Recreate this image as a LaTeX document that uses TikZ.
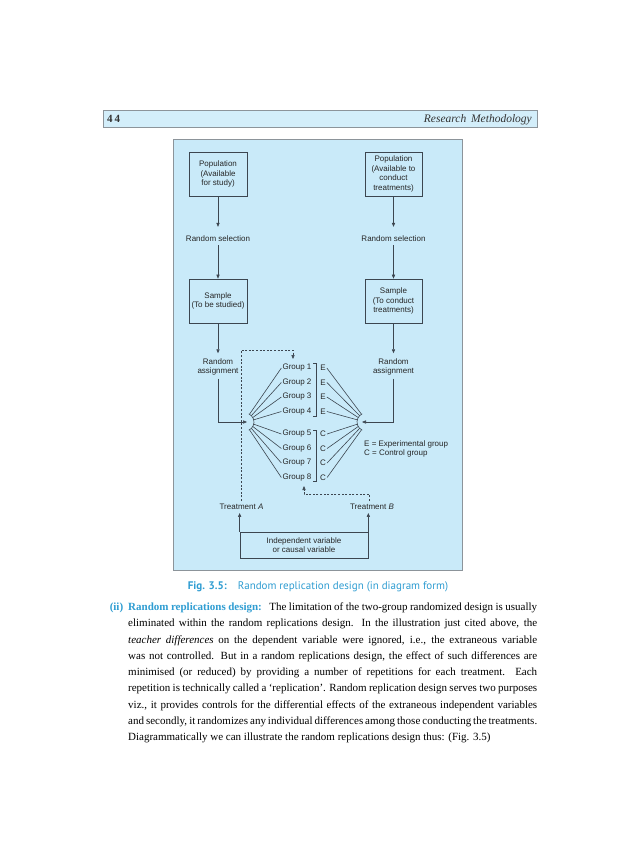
\documentclass[tikz,border=0pt]{standalone}
\usepackage{fontspec}
\setmainfont{Liberation Serif}
\newfontfamily\diagfont{Liberation Sans}
\newfontfamily\capfont{PT Sans}
\usetikzlibrary{arrows.meta,graphs,positioning}
\definecolor{panelblue}{HTML}{C9EAF9}
\definecolor{barblue}{HTML}{D3EEFA}
\definecolor{edgegray}{HTML}{8C949A}
\definecolor{inkgray}{HTML}{3C4650}
\definecolor{capblue}{HTML}{2F9DD2}
\tikzset{
    >={Triangle[length=4pt,width=3.2pt]},
    boxnode/.style ={
        draw=inkgray,
        line width=0.7pt,
        align=center,
        minimum width=58pt,
        minimum height=44pt,
        inner sep=1pt,
        text=black!85,
        font=\diagfont\fontsize{8}{9.6}\selectfont
    },
    word/.style ={
        align=center,
        inner sep=3pt,
        text=black!85,
        font=\diagfont\fontsize{8}{9.6}\selectfont
    },
    grp/.style ={
        word,
        inner sep=1pt
    },
    link/.style ={
        draw=inkgray,
        line width=0.6pt
    },
    dashlink/.style ={
        link,
        dash pattern=on 2pt off 1.6pt
    },
    panel/.style ={
        draw=edgegray,
        line width=0.8pt,
        fill=panelblue
    },
    headbar/.style ={
        draw=edgegray,
        line width=0.8pt,
        fill=barblue
    }
}

\begin{document}
\begin{tikzpicture}[x=1pt,y=-1pt]
    \useasboundingbox (0,0) rectangle (638,847);
    \fill[white] (0,0) rectangle (638,847);
    % running head
    \draw[headbar] (103,110) rectangle (537,127);
    \node[anchor=base west, inner sep=0pt, text=black!80, font=\bfseries\fontsize{11}{13}\selectfont] (pageno) at (107,122.5) {4\,4};
    \node[anchor=base east, inner sep=0pt, text=black!80, font=\itshape\fontsize{11.5}{13}\selectfont] (runhead) at (532,122.5) {Research\, Methodology};
    % the figure
    \draw[panel] (173,139) rectangle (462,570);
    \node[boxnode] (pop1) at (218,174) {Population\\(Available\\for study)};
    \node[boxnode, minimum width=57pt] (pop2) at (393.5,174) {Population\\(Available to\\conduct\\treatments)};
    \node[word] (sel1) at (218,239) {Random selection};
    \node[word] (sel2) at (393.5,239) {Random selection};
    \node[boxnode] (samp1) at (218,301) {Sample\\(To be studied)};
    \node[boxnode, minimum width=57pt] (samp2) at (393.5,301) {Sample\\(To conduct\\treatments)};
    \node[word] (assign1) at (218,367) {Random\\assignment};
    \node[word] (assign2) at (393.5,367) {Random\\assignment};
    \graph[edges={link}]{
        (pop1) ->[shorten >=6pt] (sel1) -> (samp1) ->[shorten >=2pt] (assign1);
        (pop2) ->[shorten >=6pt] (sel2) -> (samp2) ->[shorten >=2pt] (assign2);
    };
    % groups
    \node[grp] (g1) at (297,368) {Group 1};
    \node[grp] (g2) at (297,382.5) {Group 2};
    \node[grp] (g3) at (297,397) {Group 3};
    \node[grp] (g4) at (297,411.5) {Group 4};
    \node[grp] (g5) at (297,434) {Group 5};
    \node[grp] (g6) at (297,448.5) {Group 6};
    \node[grp] (g7) at (297,463) {Group 7};
    \node[grp] (g8) at (297,477.5) {Group 8};
    \node[grp] (e1) at (323,368) {E};
    \node[grp] (e2) at (323,382.5) {E};
    \node[grp] (e3) at (323,397) {E};
    \node[grp] (e4) at (323,411.5) {E};
    \node[grp] (c5) at (323,434) {C};
    \node[grp] (c6) at (323,448.5) {C};
    \node[grp] (c7) at (323,463) {C};
    \node[grp] (c8) at (323,477.5) {C};
    \draw[link] (313,363) -- (316,363) -- (316,416) -- (313,416);
    \draw[link] (313,430) -- (316,430) -- (316,481) -- (313,481);
    \node[word, anchor=west, align=left] (legend) at (361,449) {E = Experimental group\\C = Control group};
    % the two hubs
    \coordinate (hubL) at (245,422);
    \coordinate (hubR) at (366,422);
    \coordinate (tipL) at (247,422);
    \coordinate (tipR) at (362,422);
    \draw[link] (hubL) ++(-65:9) arc[start angle=-65, end angle=65, radius=9];
    \draw[link] (hubR) ++(115:9) arc[start angle=115, end angle=245, radius=9];
    \draw[link, ->] (assign1.south) |- (tipL);
    \draw[link, ->] (assign2.south) |- (tipR);
    \draw[link] ([shift={(-60:9)}]hubL) -- (g1.west);
    \draw[link] ([shift={(-45:9)}]hubL) -- (g2.west);
    \draw[link] ([shift={(-30:9)}]hubL) -- (g3.west);
    \draw[link] ([shift={(-14:9)}]hubL) -- (g4.west);
    \draw[link] ([shift={(14:9)}]hubL) -- (g5.west);
    \draw[link] ([shift={(30:9)}]hubL) -- (g6.west);
    \draw[link] ([shift={(45:9)}]hubL) -- (g7.west);
    \draw[link] ([shift={(60:9)}]hubL) -- (g8.west);
    \draw[link] (e1.east) -- ([shift={(240:9)}]hubR);
    \draw[link] (e2.east) -- ([shift={(225:9)}]hubR);
    \draw[link] (e3.east) -- ([shift={(210:9)}]hubR);
    \draw[link] (e4.east) -- ([shift={(194:9)}]hubR);
    \draw[link] (c5.east) -- ([shift={(166:9)}]hubR);
    \draw[link] (c6.east) -- ([shift={(150:9)}]hubR);
    \draw[link] (c7.east) -- ([shift={(135:9)}]hubR);
    \draw[link] (c8.east) -- ([shift={(120:9)}]hubR);
    % treatments
    \node[word] (treatA) at (241.5,507) {Treatment \textit{A}};
    \node[word] (treatB) at (372,507) {Treatment \textit{B}};
    \node[boxnode, minimum width=128pt, minimum height=26pt] (indep) at (304,545) {Independent variable\\or causal variable};
    \draw[link, ->] (indep.north west) -- (indep.north west |- treatA.south);
    \draw[link, ->] (indep.north east) -- (indep.north east |- treatB.south);
    \coordinate (turnA) at (293,350);
    \coordinate (endA) at (293,359);
    \coordinate (turnB) at (304,494);
    \coordinate (endB) at (304,486);
    \draw[dashlink, ->] (treatA.north) |- (turnA) -- (endA);
    \draw[dashlink, ->] ([xshift=-3pt]treatB.north) |- (turnB) -- (endB);
    % caption
    \node[text=capblue, font=\capfont\fontsize{11}{13}\selectfont] (caption) at (318,586.5) {\textbf{Fig. 3.5:}\quad Random replication design (in diagram form)};
    % text below the figure
    \node[anchor=base west, inner sep=0pt, text width=409pt, align=justify, font=\fontsize{11}{16.25}\selectfont] (body) at (128,610.5) {%
\llap{\textcolor{capblue}{\textbf{(ii)}}\hspace{5pt}}\textcolor{capblue}{\textbf{Random replications design:}}\hspace{4pt} The limitation of the two-group randomized design is usually\linebreak
eliminated within the random replications design. In the illustration just cited above, the\linebreak
\textit{teacher differences} on the dependent variable were ignored, i.e., the extraneous variable\linebreak
was not controlled. But in a random replications design, the effect of such differences are\linebreak
minimised (or reduced) by providing a number of repetitions for each treatment. Each\linebreak
repetition is technically called a ‘replication’. Random replication design serves two purposes\linebreak
viz., it provides controls for the differential effects of the extraneous independent variables\linebreak
and secondly, it randomizes any individual differences among those conducting the treatments.\linebreak
Diagrammatically we can illustrate the random replications design thus: (Fig. 3.5)};
\end{tikzpicture}
\end{document}
